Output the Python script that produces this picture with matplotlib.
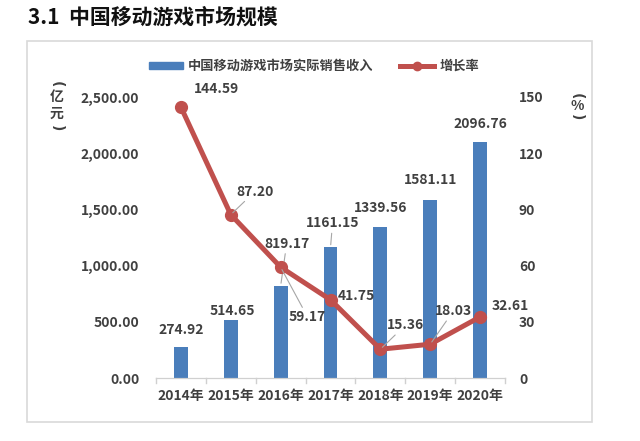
import matplotlib
matplotlib.use("Agg")
import matplotlib.pyplot as plt
from matplotlib.patches import Rectangle
from matplotlib.lines import Line2D
from matplotlib.ticker import FuncFormatter, MultipleLocator

plt.rcParams['font.family'] = ['Noto Sans CJK SC', 'DejaVu Sans']

years = ['2014年', '2015年', '2016年', '2017年', '2018年', '2019年', '2020年']
revenue = [274.92, 514.65, 819.17, 1161.15, 1339.56, 1581.11, 2096.76]
growth = [144.59, 87.20, 59.17, 41.75, 15.36, 18.03, 32.61]
bar_name = '中国移动游戏市场实际销售收入'
line_name = '增长率'
title = '3.1  中国移动游戏市场规模'
left_unit = '(亿元)'
right_unit = '(%)'

W, H = 640, 441
fig = plt.figure(figsize=(6.4, 4.41), dpi=100)
fig.patch.set_facecolor('white')

def fx(x): return x / W
def fy(y): return 1 - y / H

# title
fig.text(fx(28), fy(17), title, fontsize=15, fontweight='bold', color='#111111', va='center', ha='left')
# box
fig.patches.append(Rectangle((fx(27), fy(422)), fx(592) - fx(27), fy(41) - fy(422),
                             transform=fig.transFigure, fill=False, edgecolor='#d9d9d9', lw=1.2))

ax = fig.add_axes([fx(156), fy(378), fx(505) - fx(156), fy(97) - fy(378)])
ax2 = ax.twinx()
x = list(range(len(years)))
bar_c = '#4a7ebb'
line_c = '#c0504d'
txt_c = '#404040'
lead_c = '#a6a6a6'

ax.bar(x, revenue, width=0.28, color=bar_c, zorder=2)
ax.set_xlim(-0.5, len(years) - 0.5)
ax.set_ylim(0, 2500)
ax.yaxis.set_major_locator(MultipleLocator(500))
ax.yaxis.set_major_formatter(FuncFormatter(lambda v, p: f'{v:,.2f}'))
ax.set_xticks(x)
ax.set_xticklabels(years)
ax2.plot(x, growth, color=line_c, lw=3.6, marker='o', ms=8.5, zorder=3)
ax2.set_ylim(0, 150)
ax2.yaxis.set_major_locator(MultipleLocator(30))

for a in (ax, ax2):
    for s in ('top', 'right', 'left'):
        a.spines[s].set_visible(False)
    a.spines['bottom'].set_color('#d0d0d0')
    a.tick_params(axis='y', length=0, labelsize=10, labelcolor=txt_c)
ax.tick_params(axis='y', pad=12)
ax2.tick_params(axis='y', pad=10)
ax.tick_params(axis='x', length=0, labelsize=10, labelcolor=txt_c, pad=8)
for lab in ax.get_xticklabels() + ax.get_yticklabels() + ax2.get_yticklabels():
    lab.set_fontweight('bold')
for b in [i - 0.5 for i in range(len(years) + 1)]:
    ax.plot([b, b], [0, -45], color='#d0d0d0', lw=1, clip_on=False)

ax.set_zorder(ax2.get_zorder() - 1)
ax2.patch.set_visible(False)

def lead():
    return dict(arrowstyle='-', color=lead_c, lw=0.8, shrinkA=0, shrinkB=2)

# bar labels (pixel offsets from bar top)
bar_off = [(0, 17), (2, 9), (6, 42), (2, 24), (0, 19), (0, 20), (0, 18)]
bar_lead = [False, False, True, True, False, False, False]
for i, v in enumerate(revenue):
    ax.annotate(f'{v:.2f}', (i, v), xytext=bar_off[i], textcoords='offset pixels',
                ha='center', va='center', fontsize=10, fontweight='bold', color=txt_c,
                arrowprops=lead() if bar_lead[i] else None)

# growth labels
g_off = [(36, 18), (24, 23), (27, -50), (26, 4), (25, 24), (23, 33), (30, 11)]
g_lead = [False, True, True, False, True, True, False]
for i, v in enumerate(growth):
    ax2.annotate(f'{v:.2f}', (i, v), xytext=g_off[i], textcoords='offset pixels',
                 ha='center', va='center', fontsize=10, fontweight='bold', color=txt_c,
                 arrowprops=lead() if g_lead[i] else None, zorder=5)

# axis unit labels, written vertically one character per line
def vertical(text, xc, ys):
    for ch, yy in zip(text, ys):
        if ch in '()':
            fig.text(fx(xc), fy(yy), ch, fontsize=10, fontweight='bold', color=txt_c,
                     ha='center', va='center', rotation=-90, family='DejaVu Sans')
        else:
            fig.text(fx(xc), fy(yy), ch, fontsize=10, fontweight='bold', color=txt_c,
                     ha='center', va='center')

vertical(left_unit, 57, [84, 97, 114, 128])
vertical(right_unit, 577, [96, 106, 117])

# legend
handles = [Rectangle((0, 0), 1, 1, color=bar_c),
           Line2D([0], [0], color=line_c, lw=3.6, marker='o', ms=6)]
leg = fig.legend(handles, [bar_name, line_name], loc='center', bbox_to_anchor=(fx(314), fy(66)),
                 ncol=2, frameon=False, handlelength=2.6, handleheight=0.5, handletextpad=0.4,
                 columnspacing=2.0, prop={'weight': 'bold', 'size': 9.5})
for t in leg.get_texts():
    t.set_color(txt_c)

fig.savefig('out.png', dpi=100, facecolor='white')
